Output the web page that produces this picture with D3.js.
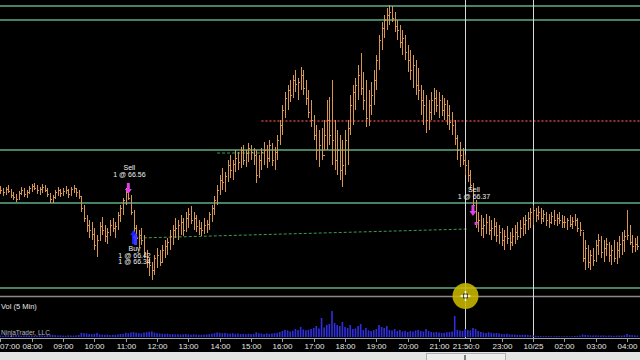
<!DOCTYPE html>
<html>
<head>
<meta charset="utf-8">
<script src="https://cdn.jsdelivr.net/npm/d3@7"></script>
<style>
  html, body { margin: 0; padding: 0; background: #000; overflow: hidden; }
  svg { display: block; }
</style>
</head>
<body>
<div id="chart"></div>
<script>
// hourly axis labels (one slot = 12 five-minute bars); "" = slot hidden by cursor label
const hourLabels = ["07:00","08:00","09:00","10:00","11:00","12:00","13:00","14:00","15:00","16:00",
  "17:00","18:00","19:00","20:00","21:00","","23:00","10/25","02:00","03:00","04:00"];

// 5 min bars, one row per hour
const hi = [
  66.47,66.46,66.465,66.475,66.455,66.44,66.43,66.445,66.465,66.46,66.45,66.47,
  66.48,66.485,66.475,66.465,66.48,66.475,66.46,66.435,66.425,66.45,66.465,66.455,
  66.46,66.47,66.455,66.465,66.475,66.46,66.45,66.42,66.375,66.325,66.30,66.29,
  66.26,66.225,66.29,66.315,66.275,66.26,66.30,66.31,66.29,66.34,66.375,66.41,
  66.46,66.48,66.425,66.35,66.275,66.25,66.26,66.225,66.15,66.11,66.09,66.125,
  66.16,66.15,66.175,66.20,66.21,66.25,66.275,66.31,66.30,66.325,66.31,66.34,
  66.36,66.37,66.34,66.325,66.30,66.29,66.31,66.30,66.34,66.375,66.42,66.475,
  66.525,66.56,66.54,66.60,66.625,66.60,66.65,66.64,66.665,66.675,66.65,66.685,
  66.675,66.66,66.65,66.625,66.66,66.69,66.675,66.70,66.685,66.665,66.725,66.80,
  66.875,66.94,66.975,67.00,67.025,67.05,67.01,67.065,67.05,67.00,66.95,66.90,
  66.825,66.775,66.75,66.76,66.80,66.90,66.915,67.00,66.80,66.75,66.725,66.70,
  66.75,66.80,66.925,66.975,67.01,67.075,67.135,67.04,67.00,66.95,66.99,67.05,
  67.125,67.225,67.29,67.325,67.36,67.375,67.37,67.34,67.30,67.275,67.25,67.225,
  67.175,67.15,67.125,67.10,67.06,66.975,66.95,66.925,66.90,66.94,66.96,66.95,
  66.94,66.925,66.91,66.90,66.875,66.84,66.80,66.725,66.69,66.66,66.625,66.60,
  66.55,66.485,66.40,66.34,66.325,66.31,66.33,66.32,66.30,66.31,66.29,66.275,
  66.26,66.25,66.27,66.24,66.26,66.275,66.29,66.30,66.315,66.325,66.34,66.36,
  66.375,66.36,66.37,66.36,66.35,66.34,66.33,66.34,66.35,66.33,66.34,66.325,
  66.32,66.31,66.325,66.315,66.33,66.31,66.29,66.24,66.20,66.175,66.15,66.16,
  66.20,66.23,66.22,66.20,66.21,66.19,66.175,66.20,66.19,66.22,66.24,66.25,
  66.35,66.275,66.225,66.21,66.22
];
const lo = [
  66.43,66.42,66.425,66.435,66.41,66.40,66.39,66.40,66.425,66.415,66.41,66.43,
  66.44,66.45,66.43,66.425,66.435,66.44,66.415,66.385,66.385,66.405,66.42,66.415,
  66.42,66.43,66.41,66.42,66.435,66.415,66.405,66.34,66.29,66.24,66.21,66.20,
  66.15,66.115,66.20,66.225,66.19,66.18,66.22,66.24,66.21,66.25,66.29,66.325,
  66.375,66.40,66.325,66.24,66.19,66.16,66.175,66.11,66.06,66.02,66.00,66.025,
  66.06,66.07,66.09,66.11,66.125,66.15,66.175,66.21,66.20,66.225,66.22,66.24,
  66.26,66.28,66.25,66.24,66.225,66.22,66.23,66.235,66.25,66.29,66.325,66.375,
  66.425,66.45,66.44,66.49,66.51,66.50,66.54,66.55,66.56,66.575,66.565,66.59,
  66.60,66.575,66.485,66.51,66.55,66.575,66.56,66.59,66.57,66.55,66.60,66.675,
  66.725,66.81,66.85,66.89,66.91,66.94,66.90,66.95,66.925,66.875,66.81,66.765,
  66.70,66.60,66.565,66.60,66.65,66.65,66.675,66.575,66.55,66.525,66.50,66.465,
  66.525,66.575,66.725,66.775,66.85,66.90,66.925,66.85,66.765,66.77,66.825,66.875,
  66.95,67.05,67.15,67.21,67.25,67.275,67.29,67.24,67.20,67.16,67.125,67.10,
  67.04,67.00,66.96,66.925,66.90,66.825,66.775,66.735,66.75,66.80,66.825,66.84,
  66.81,66.82,66.80,66.775,66.75,66.725,66.675,66.60,66.565,66.575,66.525,66.49,
  66.45,66.34,66.26,66.24,66.22,66.21,66.23,66.225,66.20,66.22,66.19,66.18,
  66.17,66.15,66.18,66.15,66.17,66.18,66.20,66.21,66.22,66.23,66.25,66.26,
  66.275,66.29,66.30,66.28,66.29,66.27,66.26,66.28,66.275,66.27,66.28,66.26,
  66.26,66.25,66.265,66.255,66.27,66.24,66.22,66.09,66.05,66.06,66.05,66.07,
  66.09,66.125,66.11,66.09,66.12,66.09,66.075,66.09,66.08,66.11,66.125,66.14,
  66.20,66.175,66.135,66.14,66.15
];
const cl = [
  66.45,66.44,66.455,66.445,66.425,66.415,66.405,66.435,66.45,66.43,66.44,66.46,
  66.47,66.46,66.45,66.455,66.465,66.45,66.43,66.405,66.415,66.44,66.45,66.435,
  66.445,66.45,66.43,66.455,66.46,66.44,66.42,66.36,66.31,66.275,66.25,66.23,
  66.175,66.20,66.27,66.25,66.22,66.24,66.275,66.26,66.27,66.325,66.36,66.40,
  66.44,66.41,66.34,66.26,66.21,66.225,66.20,66.14,66.09,66.075,66.05,66.11,
  66.125,66.09,66.15,66.17,66.19,66.22,66.25,66.26,66.275,66.29,66.25,66.31,
  66.33,66.30,66.31,66.27,66.26,66.25,66.275,66.28,66.33,66.36,66.40,66.45,
  66.50,66.49,66.52,66.575,66.55,66.58,66.61,66.59,66.65,66.60,66.635,66.66,
  66.64,66.625,66.525,66.60,66.64,66.65,66.61,66.675,66.60,66.64,66.70,66.775,
  66.85,66.91,66.95,66.925,67.00,66.98,66.99,67.025,66.96,66.91,66.84,66.80,
  66.725,66.65,66.675,66.625,66.725,66.80,66.725,66.70,66.60,66.65,66.55,66.575,
  66.70,66.76,66.875,66.94,66.975,67.025,66.96,66.90,66.81,66.875,66.925,67.00,
  67.10,67.20,67.26,67.30,67.325,67.34,67.31,67.27,67.25,67.19,67.21,67.14,
  67.10,67.05,67.075,66.975,66.95,66.90,66.875,66.80,66.84,66.90,66.91,66.875,
  66.90,66.85,66.88,66.825,66.79,66.775,66.71,66.65,66.625,66.60,66.575,66.525,
  66.475,66.375,66.29,66.30,66.26,66.275,66.29,66.25,66.26,66.27,66.225,66.24,
  66.20,66.22,66.21,66.19,66.22,66.24,66.22,66.26,66.28,66.30,66.31,66.34,
  66.35,66.325,66.34,66.31,66.33,66.30,66.29,66.32,66.30,66.31,66.30,66.29,
  66.29,66.30,66.28,66.295,66.30,66.26,66.25,66.11,66.16,66.09,66.125,66.10,
  66.175,66.20,66.14,66.16,66.18,66.125,66.15,66.11,66.15,66.18,66.20,66.22,
  66.225,66.19,66.17,66.18,66.17
];
const vol = [
  150,120,200,180,140,160,220,180,130,150,170,140,
  160,130,140,180,150,120,200,260,220,180,150,160,
  140,130,170,150,140,160,200,420,380,350,300,280,
  320,400,260,240,220,250,200,230,210,260,300,320,
  420,380,450,500,420,380,360,450,480,520,560,440,
  380,350,320,300,340,280,300,260,280,250,270,300,
  260,240,280,250,230,220,240,260,280,320,380,450,
  420,380,400,360,340,380,320,350,300,320,280,340,
  300,320,480,380,340,300,360,320,350,380,420,500,
  600,700,650,550,620,800,700,1000,750,680,720,800,
  900,1100,850,1900,950,1200,1300,2600,1400,1200,1100,1500,
  1000,900,1200,800,850,1100,1300,700,900,650,600,700,
  800,1200,1000,900,1100,700,650,800,600,700,550,600,
  500,600,550,650,700,600,550,800,600,500,450,500,
  450,400,420,480,500,550,2100,700,650,600,800,700,
  650,900,800,600,500,450,400,480,420,380,400,360,
  300,280,320,260,250,240,220,200,240,220,200,180,
  160,120,100,90,80,100,90,80,70,90,80,70,
  80,90,70,80,100,120,140,250,200,180,160,150,
  170,150,140,160,130,150,140,120,130,150,140,160,
  300,200,180,160,150
];

// drawn levels
const greenLevels = [67.37, 67.30, 66.65, 66.385, 65.96];
const redLevel = { price: 66.795, from: 100 };
const dashLines = [
  { from: 53, to: 179, p0: 66.21, p1: 66.255 },
  { from: 83, to: 101, p0: 66.635, p1: 66.635 }
];
const trades = [
  { side: "Sell", idx: 49, price: 66.485, text: ["Sell", "1 @ 66.56"] },
  { side: "Buy", idx: 51, price: 66.19, text: ["Buy", "1 @ 66.42", "1 @ 66.34"] },
  { side: "Sell", idx: 181, price: 66.375, text: ["Sell", "1 @ 66.37"] }
];
const cursorIdx = 178, cursorLabel = "21:50:0", sessionIdx = 204;

const W = 640, H = 360;
const font = "'Liberation Sans', Arial, sans-serif";

const svg = d3.select("#chart").append("svg")
  .attr("width", W).attr("height", H);

svg.append("rect").attr("width", W).attr("height", H).attr("fill", "#000");

let x = d3.scaleLinear().domain([0, 240]).range([0.4, 627]);
let y = d3.scaleLinear().domain([65.92, 67.40]).range([296, 0]);
let yv = d3.scaleLinear().domain([0, 4000]).range([337, 297]);

// horizontal levels
svg.selectAll(".lvl").data(greenLevels).enter().append("line")
  .attr("class", "lvl")
  .attr("x1", 0).attr("x2", W)
  .attr("y1", d => y(d)).attr("y2", d => y(d))
  .attr("stroke", "#5fae86").attr("stroke-width", 1.7);

svg.append("line")
  .attr("x1", x(redLevel.from)).attr("x2", W)
  .attr("y1", y(redLevel.price)).attr("y2", y(redLevel.price))
  .attr("stroke", "#d04040").attr("stroke-width", 1.4)
  .attr("stroke-dasharray", "2,2");

svg.selectAll(".dl").data(dashLines).enter().append("line")
  .attr("class", "dl")
  .attr("x1", d => x(d.from)).attr("x2", d => x(d.to))
  .attr("y1", d => y(d.p0)).attr("y2", d => y(d.p1))
  .attr("stroke", "#3f9a52").attr("stroke-width", 1)
  .attr("stroke-dasharray", "3,2");

// pane separator and axis line
svg.append("line").attr("x1", 0).attr("x2", W).attr("y1", 296.5).attr("y2", 296.5)
  .attr("stroke", "#8a8a8a").attr("stroke-width", 1.5);
svg.append("line").attr("x1", 0).attr("x2", W).attr("y1", 338.5).attr("y2", 338.5)
  .attr("stroke", "#a0a0a0").attr("stroke-width", 1);

// vertical lines: session break and cursor
svg.selectAll(".vl").data([sessionIdx, cursorIdx]).enter().append("line")
  .attr("class", "vl")
  .attr("x1", d => Math.round(x(d)) + 0.5).attr("x2", d => Math.round(x(d)) + 0.5)
  .attr("y1", 0).attr("y2", 338)
  .attr("stroke", "#d8d8d8").attr("stroke-width", 1);

// volume
svg.selectAll(".vb").data(vol).enter().append("rect")
  .attr("class", "vb")
  .attr("x", (d, i) => x(i) - 0.8)
  .attr("width", 1.6)
  .attr("y", d => yv(d))
  .attr("height", d => yv(0) - yv(d))
  .attr("fill", "#2f2fe0");

// OHLC bars
let bars = svg.append("g").attr("stroke", "#d9964e").attr("stroke-width", 1)
  .attr("shape-rendering", "crispEdges");
hi.forEach((h, i) => {
  let cx = Math.round(x(i)) + 0.5;
  let op = i > 0 ? cl[i - 1] : cl[0];
  bars.append("line").attr("x1", cx).attr("x2", cx).attr("y1", y(h)).attr("y2", y(lo[i]));
  bars.append("line").attr("x1", cx - 1).attr("x2", cx).attr("y1", y(op)).attr("y2", y(op));
  bars.append("line").attr("x1", cx).attr("x2", cx + 1).attr("y1", y(cl[i])).attr("y2", y(cl[i]));
});

// trade markers
trades.forEach(t => {
  let cx = x(t.idx), py = y(t.price);
  if (t.side === "Sell") {
    svg.append("path")
      .attr("d", `M${cx - 1.5},${py} h3 v6 h2 l-3.5,5 l-3.5,-5 h2 z`)
      .attr("fill", "#e040e8");
    t.text.forEach((s, k) => {
      svg.append("text").attr("x", cx + 1).attr("y", py - 12 + (k - t.text.length + 1) * 7 + 6)
        .attr("text-anchor", "middle").attr("font-family", font).attr("font-size", 7)
        .attr("fill", "#f0f0f0").text(s);
    });
  } else {
    svg.append("path")
      .attr("d", `M${cx},${py - 12} l3.5,5 h-2 v9 h-3 v-9 h-2 z`)
      .attr("fill", "#2020ff");
    svg.append("path")
      .attr("d", `M${cx + 2},${py - 8} l3,4 h-1.5 v7 h-3 v-7 h-1.5 z`)
      .attr("fill", "#3a3aff");
    t.text.forEach((s, k) => {
      svg.append("text").attr("x", cx + 1).attr("y", py + 9 + k * 6.5)
        .attr("text-anchor", "middle").attr("font-family", font).attr("font-size", 7)
        .attr("fill", "#f0f0f0").text(s);
    });
  }
});
// exit fill mark after second sell
svg.append("rect").attr("x", x(182) - 1).attr("y", y(66.28) - 2).attr("width", 3).attr("height", 3)
  .attr("fill", "#e040e8");

// pane labels (kept fully inside the picture)
svg.append("text").attr("x", 1).attr("y", 309)
  .attr("font-family", font).attr("font-size", 7.5).attr("fill", "#e8e8e8").text("Vol (5 Min)");
svg.append("text").attr("x", 1).attr("y", 335)
  .attr("font-family", font).attr("font-size", 6.5).attr("fill", "#b8b8b8").text("NinjaTrader, LLC");

// time axis
let ax = svg.append("g");
hourLabels.forEach((lab, k) => {
  let tx = Math.round(x(k * 12)) + 0.5;
  ax.append("line").attr("x1", tx).attr("x2", tx).attr("y1", 339).attr("y2", 342)
    .attr("stroke", "#a0a0a0");
  if (lab) {
    ax.append("text").attr("x", k === 0 ? 0 : tx).attr("y", 348.5)
      .attr("text-anchor", k === 0 ? "start" : "middle")
      .attr("font-family", font).attr("font-size", 8).attr("fill", "#e6e6e6").text(lab);
  }
});
ax.append("text").attr("x", x(cursorIdx) + 1).attr("y", 348.5).attr("text-anchor", "middle")
  .attr("font-family", font).attr("font-size", 8).attr("fill", "#e6e6e6").text(cursorLabel);

// bottom scroll strip
svg.append("rect").attr("x", 0).attr("y", 352).attr("width", W).attr("height", 8).attr("fill", "#e4e4e4");
svg.append("rect").attr("x", 426.5).attr("y", 353.5).attr("width", 79).attr("height", 7)
  .attr("fill", "#ededed").attr("stroke", "#b0b0b0");
svg.append("rect").attr("x", Math.round(x(cursorIdx)) - 1).attr("y", 355).attr("width", 2).attr("height", 5)
  .attr("fill", "#808080");

// cursor highlight
let cxC = Math.round(x(cursorIdx)) + 0.5;
svg.append("circle").attr("cx", cxC).attr("cy", 296).attr("r", 13)
  .attr("fill", "#c9b800").attr("opacity", 0.88);
svg.append("path").attr("d", `M${cxC - 5},296 h10 M${cxC},291 v10`)
  .attr("stroke", "#fff").attr("stroke-width", 1.5);
svg.append("rect").attr("x", cxC - 2).attr("y", 294).attr("width", 4).attr("height", 4)
  .attr("fill", "none").attr("stroke", "#333").attr("stroke-width", 0.8);
</script>
</body>
</html>
